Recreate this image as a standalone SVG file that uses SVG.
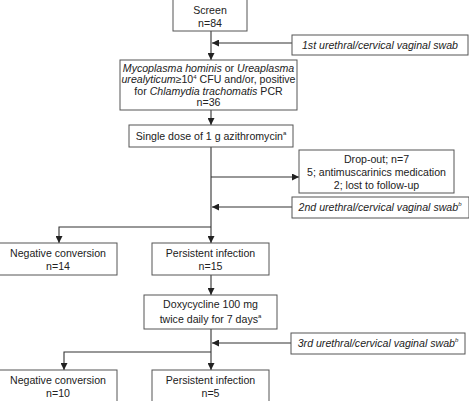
<svg xmlns="http://www.w3.org/2000/svg" width="469" height="401" viewBox="0 0 469 401">
<defs>
<style>
.box{fill:#fff;stroke:#555;stroke-width:1}
.t{font-family:"Liberation Sans",Arial,sans-serif;font-size:10.6px;fill:#222;text-anchor:middle}
.i{font-style:italic}
.sup{font-size:6px}
.ln{stroke:#333;stroke-width:1.1;fill:none}
</style>
<marker id="ah" viewBox="0 0 10 10" refX="10" refY="5" markerWidth="7" markerHeight="7" markerUnits="userSpaceOnUse" orient="auto">
<path d="M0,0 L10,5 L0,10 z" fill="#222"/>
</marker>
</defs>
<rect width="469" height="401" fill="#fff"/>
<g id="connectors">
<path class="ln" d="M211,31 V60" marker-end="url(#ah)"/>
<path class="ln" d="M292,43 H212" marker-end="url(#ah)"/>
<path class="ln" d="M211,110 V125" marker-end="url(#ah)"/>
<path class="ln" d="M211,147 V243" marker-end="url(#ah)"/>
<path class="ln" d="M211,177 H299" marker-end="url(#ah)"/>
<path class="ln" d="M292,207 H212" marker-end="url(#ah)"/>
<path class="ln" d="M211,227 H59 V243" marker-end="url(#ah)"/>
<path class="ln" d="M211,275 V295" marker-end="url(#ah)"/>
<path class="ln" d="M211,329 V370" marker-end="url(#ah)"/>
<path class="ln" d="M291,343 H212" marker-end="url(#ah)"/>
<path class="ln" d="M211,352 H64 V370" marker-end="url(#ah)"/>
</g>
<g id="screen">
<rect class="box" x="173" y="-1" width="74" height="32"/>
<text class="t" x="210" y="14">Screen</text>
<text class="t" x="210" y="27">n=84</text>
</g>
<g id="swab1">
<rect class="box" x="292" y="35" width="176" height="20"/>
<text class="t i" x="380" y="49">1st urethral/cervical vaginal swab</text>
</g>
<g id="positive">
<rect class="box" x="120" y="60" width="177" height="50"/>
<text class="t" x="208.5" y="72"><tspan class="i">Mycoplasma hominis</tspan> or <tspan class="i">Ureaplasma</tspan></text>
<text class="t" x="208.5" y="83"><tspan class="i">urealyticum</tspan>≥10<tspan class="sup" dy="-4">4</tspan><tspan dy="4"> CFU and/or, positive</tspan></text>
<text class="t" x="208.5" y="94.5">for <tspan class="i">Chlamydia trachomatis</tspan> PCR</text>
<text class="t" x="208.5" y="106">n=36</text>
</g>
<g id="azithro">
<rect class="box" x="129" y="125" width="164" height="22"/>
<text class="t" x="211" y="140">Single dose of 1 g azithromycin<tspan class="sup" dy="-5">a</tspan></text>
</g>
<g id="dropout">
<rect class="box" x="299" y="150" width="155" height="43"/>
<text class="t" x="376.5" y="163">Drop-out; n=7</text>
<text class="t" x="376.5" y="176">5; antimuscarinics medication</text>
<text class="t" x="376.5" y="189">2; lost to follow-up</text>
</g>
<g id="swab2">
<rect class="box" x="292" y="197" width="177" height="21"/>
<text class="t i" x="380" y="211">2nd urethral/cervical vaginal swab<tspan class="sup" dy="-5">b</tspan></text>
</g>
<g id="neg1">
<rect class="box" x="-1" y="243" width="118" height="32"/>
<text class="t" x="58" y="257">Negative conversion</text>
<text class="t" x="58" y="270">n=14</text>
</g>
<g id="pers1">
<rect class="box" x="152" y="243" width="117" height="32"/>
<text class="t" x="210.5" y="257">Persistent infection</text>
<text class="t" x="210.5" y="270">n=15</text>
</g>
<g id="doxy">
<rect class="box" x="144" y="295" width="133" height="34"/>
<text class="t" x="210.5" y="308">Doxycycline 100 mg</text>
<text class="t" x="210.5" y="323">twice daily for 7 days<tspan class="sup" dy="-5">a</tspan></text>
</g>
<g id="swab3">
<rect class="box" x="291" y="333" width="174" height="21"/>
<text class="t i" x="378" y="347">3rd urethral/cervical vaginal swab<tspan class="sup" dy="-5">b</tspan></text>
</g>
<g id="neg2">
<rect class="box" x="-1" y="370" width="118" height="40"/>
<text class="t" x="58" y="384">Negative conversion</text>
<text class="t" x="58" y="397">n=10</text>
</g>
<g id="pers2">
<rect class="box" x="152" y="370" width="117" height="40"/>
<text class="t" x="210.5" y="384">Persistent infection</text>
<text class="t" x="210.5" y="397">n=5</text>
</g>
</svg>
